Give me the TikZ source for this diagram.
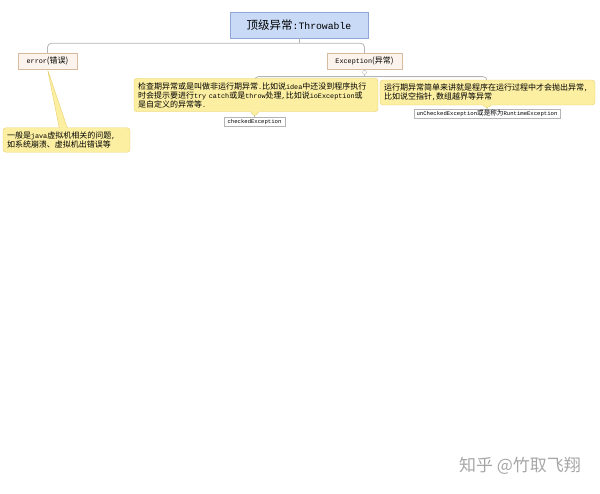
\documentclass[tikz,border=0pt]{standalone}
\usepackage{fontspec}
\setmainfont{Noto Sans CJK SC}
\newfontfamily\mono{Liberation Mono}[Scale=0.85]
\newcommand\lat[1]{{\mono #1}}
\usetikzlibrary{positioning}
\usetikzlibrary{shapes.callouts}
\definecolor{topfill}{HTML}{C8DAF6}
\definecolor{topline}{HTML}{8DA8D6}
\definecolor{branchfill}{HTML}{FCF4EC}
\definecolor{branchline}{HTML}{D8BB9E}
\definecolor{notefill}{HTML}{FCEFA2}
\definecolor{noteline}{HTML}{E6CF6A}
\definecolor{linkline}{HTML}{B4B4B4}
\tikzset{
  TopTopic/.style={
    draw=topline, fill=topfill, inner sep=0pt,
    minimum width=138pt, minimum height=26pt,
    font=\fontsize{11.5}{13}\selectfont
  },
  Branch/.style={
    draw=branchline, fill=branchfill, inner sep=0pt,
    minimum height=16pt, font=\fontsize{8}{9}\selectfont
  },
  Leaf/.style={
    draw=linkline, fill=white, inner sep=0pt,
    text height=4.2pt, text depth=1.2pt,
    minimum height=9pt, font=\fontsize{6.6}{7}\selectfont
  },
  Knob/.style={draw=linkline, fill=white, circle, inner sep=0pt, minimum size=4pt},
  Link/.style={draw=linkline, line width=0.8pt, rounded corners=4pt},
  Note/.style={
    rectangle callout, draw=noteline, fill=notefill, rounded corners=3pt,
    inner sep=4pt, align=left, anchor=center,
    font=\fontsize{8}{9}\selectfont, callout pointer width=8pt
  }
}
\begin{document}
\begin{tikzpicture}[x=1pt,y=-1pt]
  \useasboundingbox (0,0) rectangle (600,493);
  % mind map topics
  \node[TopTopic] (top) at (299,25) {顶级异常\lat{:Throwable}};
  \node[Branch, minimum width=59pt] (error) at (47.5,61) {\lat{error}(错误)};
  \node[Branch, minimum width=75pt] (exc) at (364.5,61) {\lat{Exception}(异常)};
  \node[Leaf, minimum width=61pt] (checked) at (254.5,121.5) {\lat{checkedException}};
  \node[Leaf, minimum width=146pt] (unchecked) at (487,113.5)
    {\lat{unCheckedException}或是称为\lat{RuntimeException}};
  \coordinate[below=5pt of top] (topjoin);
  \node[Knob, below=1pt of exc] (excknob) {};
  \coordinate[below=2pt of excknob] (excjoin);
  % connectors
  \draw[Link] (top.south) -- (topjoin);
  \draw[Link] (error.north) |- (topjoin) -| (exc.north);
  \draw[Link] (excknob.south) -- (excjoin);
  \draw[Link] (checked.north) |- (excjoin) -| (unchecked.north);
  % notes
  \node[Note, text width=236pt, minimum height=30pt,
    callout absolute pointer={(checked.north)}] (checkednote) at (256,95)
    {检查期异常或是叫做非运行期异常\lat{.}比如说\lat{idea}中还没到程序执行\\
     时会提示要进行\lat{try catch}或是\lat{throw}处理\lat{,}比如说\lat{ioException}或\\
     是自定义的异常等\lat{.}};
  \node[Note, text width=207pt, minimum height=25pt,
    callout absolute pointer={(unchecked.north)}] (uncheckednote) at (487.5,92.5)
    {运行期异常简单来讲就是程序在运行过程中才会抛出异常\lat{,}\\
     比如说空指针\lat{,}数组越界等异常};
  \node[Note, text width=119pt, minimum height=24pt,
    callout absolute pointer={(error.south)}] (errornote) at (66.5,140)
    {一般是\lat{java}虚拟机相关的问题\lat{,}\\
     如系统崩溃、虚拟机出错误等};
  \node[text=black!35, font=\fontsize{17}{19}\selectfont] (mark) at (520,466) {知乎 @竹取飞翔};
\end{tikzpicture}
\end{document}
